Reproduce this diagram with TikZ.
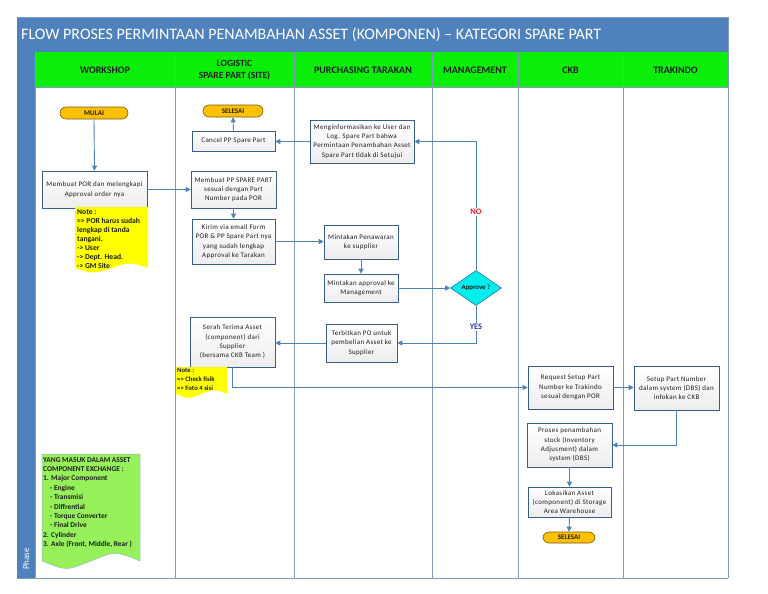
\documentclass[tikz,border=0pt]{standalone}
\usepackage{fontspec}
\setmainfont{Carlito}
\newfontfamily\boxfont[LetterSpace=5]{Carlito}
\usetikzlibrary{arrows.meta,shapes.geometric}
\definecolor{barblue}{RGB}{79,129,189}
\definecolor{hdrgreen}{RGB}{10,238,10}
\definecolor{gridline}{RGB}{125,155,195}
\definecolor{boxborder}{RGB}{56,93,138}
\definecolor{arrblue}{RGB}{79,129,189}
\definecolor{pillfill}{RGB}{255,192,0}
\definecolor{pillborder}{RGB}{120,90,20}
\definecolor{diafill}{RGB}{0,238,238}
\definecolor{diaborder}{RGB}{40,120,160}
\definecolor{noteyellow}{RGB}{255,255,0}
\definecolor{notegreen}{RGB}{150,240,90}
\definecolor{nored}{RGB}{235,30,40}
\definecolor{yesblue}{RGB}{40,60,180}
\definecolor{txtdark}{RGB}{30,30,30}
\begin{document}
\begin{tikzpicture}[x=1pt,y=-1pt,
  box/.style={draw=boxborder, line width=0.6pt, top color=white, bottom color=gray!14,
    align=center, inner sep=1pt, text=txtdark, font=\boxfont\fontsize{7}{9.3}\selectfont},
  pill/.style={draw=pillborder, line width=0.6pt, fill=pillfill, rounded corners=6pt,
    inner sep=0pt, text=txtdark, font=\bfseries\fontsize{7}{8}\selectfont},
  hdr/.style={text=txtdark, font=\bfseries\fontsize{10}{12}\selectfont, align=center},
  arr/.style={-{Triangle[length=5pt,width=5pt]}, draw=arrblue, line width=0.9pt},
  notetxt/.style={anchor=north west, align=left, inner sep=0pt, text=txtdark},
  lbl/.style={font=\bfseries\fontsize{8.5}{9}\selectfont, fill=white, inner sep=1pt}
]
\useasboundingbox (0,0) rectangle (768,594);
% title and phase bars
\fill[barblue] (17,17) rectangle (728,52);
\fill[barblue] (17,52) rectangle (35,578);
\node[anchor=west, text=white, font=\fontsize{16}{18}\selectfont, inner sep=0pt] (title) at (21,35)
  {FLOW PROSES PERMINTAAN PENAMBAHAN ASSET (KOMPONEN) -- KATEGORI SPARE PART};
\node[rotate=90, text=white, font=\fontsize{9}{10}\selectfont, inner sep=0pt] (phase) at (26,559) {Phase};
% header
\fill[hdrgreen] (35,52) rectangle (728,87);
% grid lines
\foreach \xx in {175,294,432,518,623} {\draw[gridline, line width=0.7pt] (\xx,52) -- (\xx,578);}
\draw[gridline, line width=0.7pt] (35,52) -- (35,578);
\draw[gridline, line width=0.7pt] (728,17) -- (728,578);
\draw[gridline, line width=0.7pt] (35,87) -- (728,87);
\draw[gridline, line width=0.9pt] (17,578) -- (728,578);
\draw[gridline, line width=0.6pt] (17,17) -- (728,17);
\node[hdr] (h1) at (105,70) {WORKSHOP};
\node[hdr, font=\bfseries\fontsize{9.5}{12}\selectfont] (h2) at (234.5,70) {LOGISTIC\\SPARE PART (SITE)};
\node[hdr] (h3) at (363,70) {PURCHASING TARAKAN};
\node[hdr] (h4) at (475,70) {MANAGEMENT};
\node[hdr] (h5) at (570.5,70) {CKB};
\node[hdr] (h6) at (675.5,70) {TRAKINDO};

% terminators
\node[pill, minimum width=68pt, minimum height=12pt] (mulai) at (94,113) {MULAI};
\node[pill, minimum width=60pt, minimum height=12pt] (sel1) at (233,111) {SELESAI};
\node[pill, minimum width=52pt, minimum height=11pt] (sel2) at (569,537.5) {SELESAI};

% process boxes
\node[box, minimum width=105pt, minimum height=37pt] (por) at (94.5,189.5) {Membuat POR dan melengkapi\\Approval order nya};
\node[box, minimum width=85pt, minimum height=37pt] (pp) at (233.5,189.5) {Membuat PP SPARE PART\\sesuai dengan Part\\Number pada POR};
\node[box, minimum width=83pt, minimum height=20pt] (cancel) at (233.5,141) {Cancel PP Spare Part};
\node[box, minimum width=83pt, minimum height=45pt] (kirim) at (233.5,241.5) {Kirim via email Form\\POR \& PP Spare Part nya\\yang sudah lengkap\\Approval ke Tarakan};
\node[box, minimum width=104pt, minimum height=43pt] (info) at (362,141.5) {Menginformasikan ke User dan\\Log. Spare Part bahwa\\Permintaan Penambahan Asset\\Spare Part tidak di Setujui};
\node[box, minimum width=74pt, minimum height=34pt] (penaw) at (361,242) {Mintakan Penawaran\\ke supplier};
\node[box, minimum width=74pt, minimum height=28pt] (apprv) at (361,288) {Mintakan approval ke\\Management};
\node[diamond, draw=diaborder, line width=0.6pt, fill=diafill, minimum width=51pt, minimum height=35pt,
  inner sep=0pt, text=txtdark, font=\bfseries\fontsize{6.8}{7}\selectfont] (dia) at (476,288) {Approve ?};
\node[box, minimum width=71pt, minimum height=38pt] (terbit) at (361.5,343) {Terbitkan PO untuk\\pembelian Asset ke\\Supplier};
\node[box, minimum width=85pt, minimum height=50pt] (serah) at (232.5,342) {Serah Terima  Asset\\(component) dari\\Supplier\\(bersama CKB Team )};
\node[box, minimum width=85pt, minimum height=43pt] (req) at (570.5,387.5) {Request Setup Part\\Number ke Trakindo\\sesuai dengan POR};
\node[box, minimum width=85pt, minimum height=44pt] (setup) at (676.5,388) {Setup Part Number\\dalam system (DBS) dan\\infokan ke CKB};
\node[box, minimum width=85pt, minimum height=44pt] (proses) at (569.5,445) {Proses penambahan\\stock  (Inventory\\Adjusment)  dalam\\system (DBS)};
\node[box, minimum width=83pt, minimum height=30pt] (lokasi) at (569.5,502) {Lokasikan Asset\\(component) di Storage\\Area Warehouse};

% notes
\fill[noteyellow] (75,207) -- (148,207) -- (148,268)
  .. controls (129.75,262) .. (111.5,268) .. controls (93.25,274) .. (75,268) -- cycle;
\node[notetxt, font=\bfseries\fontsize{7.6}{9}\selectfont] (note1) at (77,209)
  {Note :\\=> POR harus sudah\\lengkap di tanda\\tangani.\\-> User\\-> Dept. Head.\\-> GM Site};
\fill[noteyellow] (176,367) -- (227,367) -- (227,394)
  .. controls (214.25,389) .. (201.5,394) .. controls (188.75,399) .. (176,394) -- cycle;
\node[notetxt, font=\bfseries\fontsize{6.7}{9}\selectfont] (note2) at (177,368)
  {Note :\\=> Check fisik\\=> Foto 4 sisi};
\filldraw[fill=notegreen, draw=gridline!70, line width=0.5pt] (42,454) -- (140,454) -- (140,561)
  .. controls (115.5,551) .. (91,561) .. controls (66.5,571) .. (42,561) -- cycle;
\node[notetxt, font=\bfseries\fontsize{7.4}{9.4}\selectfont] (note3) at (43,457)
  {YANG MASUK DALAM ASSET\\COMPONENT EXCHANGE :\\1. Major Component\\
   \hspace*{7pt}- Engine\\\hspace*{7pt}- Transmisi\\\hspace*{7pt}- Diffrential\\
   \hspace*{7pt}- Torque Converter\\\hspace*{7pt}- Final Drive\\2. Cylinder\\3. Axle (Front, Middle, Rear )};

% connectors
\draw[arr] (mulai.south) -- (por.north);
\draw[arr] (por.east) -- (pp.west);
\draw[arr] (pp.south) -- (kirim.north);
\draw[arr] (cancel.north) -- (sel1.south);
\draw[arr] (kirim.east) -- (kirim.east -| penaw.west);
\draw[arr] (penaw.south) -- (apprv.north);
\draw[arr] (apprv.east) -- (dia.west);
\draw[arr] (dia.north) |- (info.east);
\draw[arr] (info.west) -- (info.west -| cancel.east);
\draw[arr] (dia.south) |- (terbit.east);
\draw[arr] (terbit.west) -- (terbit.west -| serah.east);
\draw[arr] (serah.south) |- (req.west);
\draw[arr] (req.east) -- (req.east -| setup.west);
\draw[arr] (setup.south) |- (proses.east);
\draw[arr] (proses.south) -- (lokasi.north);
\draw[arr] (lokasi.south) -- (sel2.north);
\node[lbl, text=nored] (no) at (476,212) {NO};
\node[lbl, text=yesblue] (yes) at (476,327) {YES};
\end{tikzpicture}
\end{document}
